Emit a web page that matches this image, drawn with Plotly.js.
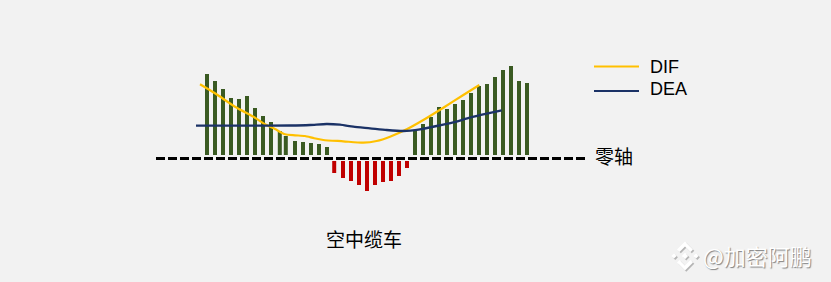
<!DOCTYPE html>
<html>
<head>
<meta charset="utf-8">
<script src="https://cdn.plot.ly/plotly-3.0.1.min.js"></script>
<style>
html,body{margin:0;padding:0;background:#F2F2F2;}
#chart{width:831px;height:282px;}
</style>
</head>
<body>
<div id="chart"></div>
<script>
// ---- data ----
const greenLeftX = [0,1,2,3,4,5,6,7,8,9.1,9.85,11,12,13,14,15];
const greenLeftH = [81,74,66,57,56,59,47,39,33,24,19,14,13,12,11,8];
const redX = [15.9,17,18,19,20,21,22,23,24,25];
const redDepth = [12,17,20,24,30,24,21,20,15,7];
const greenRightX = [26,27,28,29,30,31,32,33,34,35,36,37,38,39,40];
const greenRightH = [24,31,38,48,46,51,55,62,69,71,78,85,89,74,72];

const difX = [-0.875,1.0,3.5,6.0,7.25,8.5,9.75,11.0,12.25,13.4,14.54,17.04,19.54,21.2,22.875,24.96,27.04,29.54,32.04,34.04];
const difY = [74.2,65.2,51.8,40.8,34.2,29.5,24.2,23.2,22.5,20.2,18.5,17.2,15.8,17.5,21.8,29.2,38.5,50.8,63.5,73.5];
const deaX = [-1.375,5.375,10.375,12.875,14.96,16.625,18.29,20.375,22.46,24.54,26.625,28.71,30.79,32.875,34.96,36.84];
const deaY = [32.8,32.8,33.0,33.5,34.5,33.8,31.8,30.2,28.5,27.5,29.2,32.5,36.2,40.8,44.8,48.2];

const seriesNames = ["DIF","DEA"];
const zeroLabel = "零轴";
const chartLabel = "空中缆车";
const watermark = "@加密阿鹏";

// ---- styles ----
const W = 831, H = 282;
const GREEN = "#3A5A22", RED = "#C00000", GOLD = "#FFC000", NAVY = "#1B3266";
const px = (x) => x / W;
const py = (y) => 1 - y / H;

const traces = [
  {type:"bar", x: greenLeftX.concat(greenRightX), y: greenLeftH.concat(greenRightH),
   base: 3.5, width: 0.5, marker:{color:GREEN, line:{width:0}}, hoverinfo:"skip", showlegend:false},
  {type:"bar", x: redX, y: redDepth.map(v => -v),
   base: -2.5, width: 0.5, marker:{color:RED, line:{width:0}}, hoverinfo:"skip", showlegend:false},
  {type:"scatter", mode:"lines", x: difX, y: difY, name: seriesNames[0],
   line:{color:GOLD, width:2.2, shape:"spline", smoothing:0.6}, hoverinfo:"skip", showlegend:false},
  {type:"scatter", mode:"lines", x: deaX, y: deaY, name: seriesNames[1],
   line:{color:NAVY, width:2.3, shape:"spline", smoothing:0.6}, hoverinfo:"skip", showlegend:false}
];

// Binance-like logo (unit coords, y down)
function poly(pts, cx, cy, s) {
  return "M " + pts.map(p => px(cx + p[0]*s) + "," + py(cy + p[1]*s)).join(" L ") + " Z";
}
const topChev = [[0,-1],[0.55,-0.45],[0.38,-0.28],[0,-0.66],[-0.38,-0.28],[-0.55,-0.45]];
const botChev = topChev.map(p => [p[0], -p[1]]);
const dia = (cx, cy, h) => [[cx, cy-h],[cx+h, cy],[cx, cy+h],[cx-h, cy]];
const logoParts = [topChev, botChev, dia(-0.76,0,0.18), dia(0.76,0,0.18), dia(0,0,0.22)];
const logoShapes = [];
[[1.3,1.3,"rgba(140,140,140,0.6)"],[0,0,"#FFFFFF"]].forEach(([dx,dy,col]) => {
  logoParts.forEach(p => logoShapes.push({type:"path", xref:"paper", yref:"paper",
    path: poly(p, 685+dx, 256+dy, 14.5), fillcolor: col, line:{width:0}}));
});

const layout = {
  width: W, height: H, autosize: false,
  margin: {l:0, r:0, t:0, b:0, pad:0},
  paper_bgcolor: "#F2F2F2", plot_bgcolor: "#F2F2F2",
  barmode: "overlay",
  xaxis: {range: [-207/8, (W-207)/8], visible: false, fixedrange: true},
  yaxis: {range: [158.5 - H, 158.5], visible: false, fixedrange: true},
  showlegend: false,
  shapes: [
    {type:"line", xref:"x", yref:"y", x0:-6.375, x1:47.25, y0:0, y1:0,
     line:{color:"#000000", width:3, dash:"9px,3px"}},
    {type:"line", xref:"paper", yref:"paper", x0:px(594), x1:px(639), y0:py(66.5), y1:py(66.5),
     line:{color:GOLD, width:2}},
    {type:"line", xref:"paper", yref:"paper", x0:px(594), x1:px(639), y0:py(91), y1:py(91),
     line:{color:NAVY, width:2}}
  ].concat(logoShapes),
  annotations: [
    {xref:"paper", yref:"paper", x:px(648), y:py(67), xanchor:"left", yanchor:"middle",
     text: seriesNames[0], showarrow:false, font:{family:"Liberation Sans, Arial, sans-serif", size:18, color:"#000"}},
    {xref:"paper", yref:"paper", x:px(648), y:py(89.5), xanchor:"left", yanchor:"middle",
     text: seriesNames[1], showarrow:false, font:{family:"Liberation Sans, Arial, sans-serif", size:18, color:"#000"}},
    {xref:"paper", yref:"paper", x:px(593), y:py(155), xanchor:"left", yanchor:"middle",
     text: zeroLabel, showarrow:false, font:{family:"Noto Sans CJK SC, sans-serif", size:19, color:"#000"}},
    {xref:"paper", yref:"paper", x:px(364), y:py(239), xanchor:"center", yanchor:"middle",
     text: chartLabel, showarrow:false, font:{family:"Noto Sans CJK SC, sans-serif", size:19, color:"#000"}},
    {xref:"paper", yref:"paper", x:px(701), y:py(255), xanchor:"left", yanchor:"middle",
     text: watermark, showarrow:false,
     font:{family:"Noto Sans CJK SC, sans-serif", size:22, color:"#FFFFFF",
           shadow:"1px 1px 1px rgba(90,90,90,0.75)"}}
  ]
};

Plotly.newPlot("chart", traces, layout, {displayModeBar:false, staticPlot:true});
</script>
</body>
</html>
